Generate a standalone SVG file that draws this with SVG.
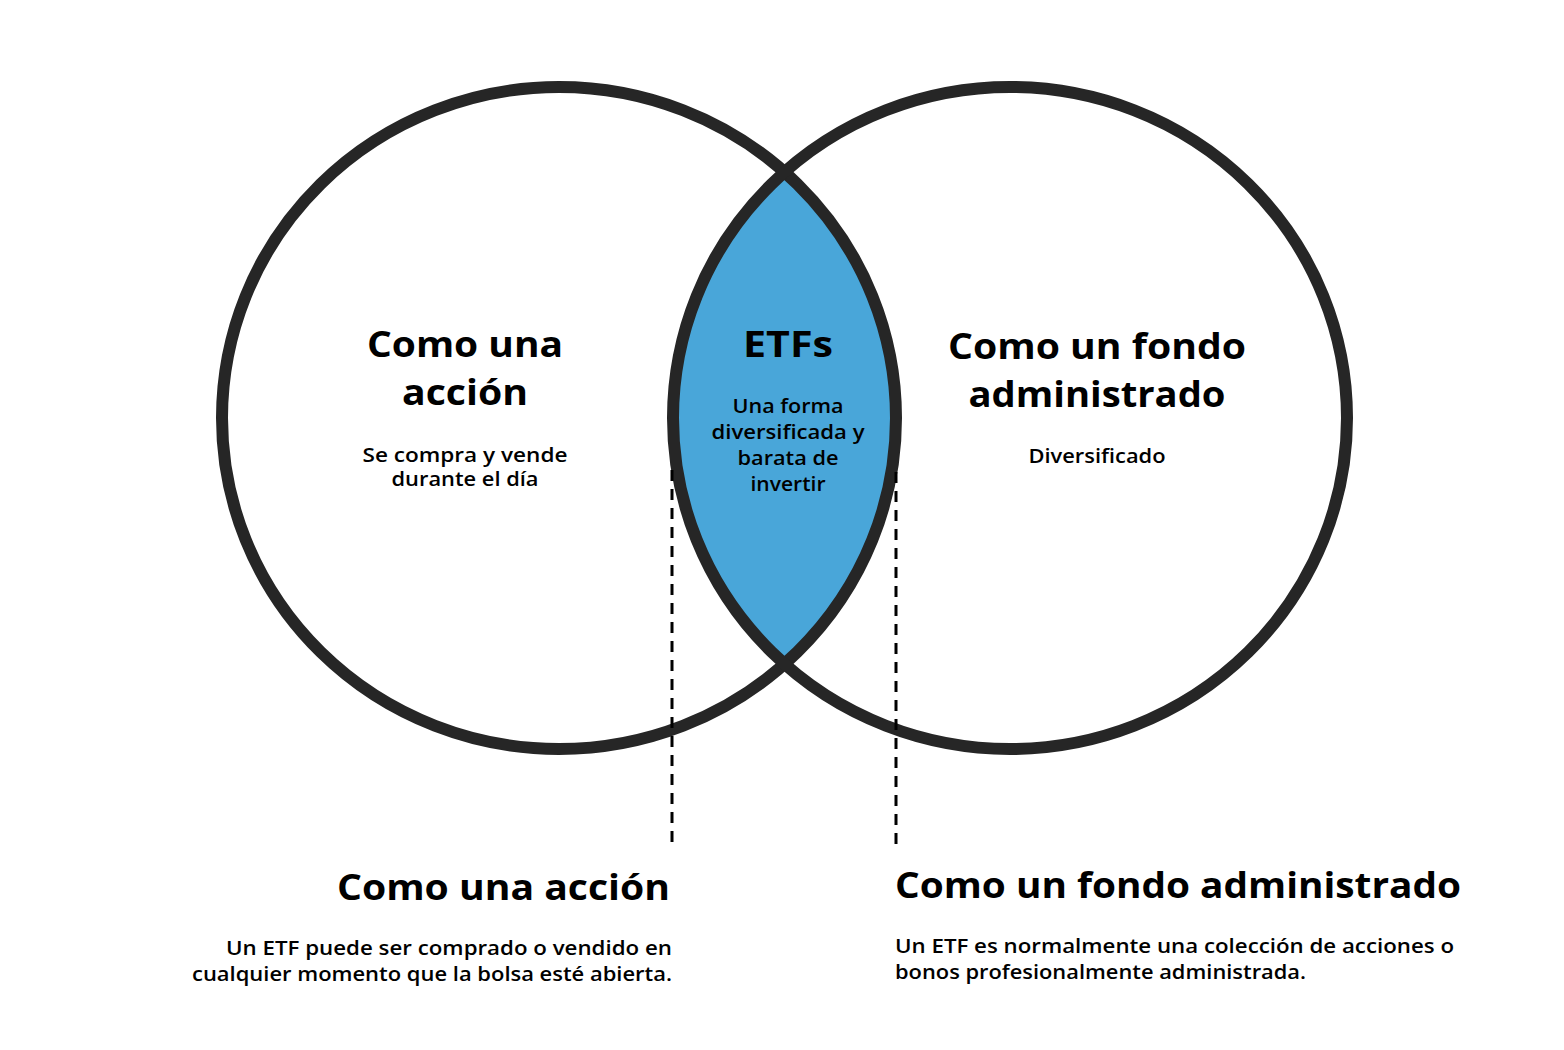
<svg xmlns="http://www.w3.org/2000/svg" width="1564" height="1050" viewBox="0 0 1564 1050">
<style>
text{font-family:"Open Sans","Liberation Sans",sans-serif;fill:#000}
.h{font-size:35px;font-weight:700}
.s{font-size:19px;font-weight:600}
.c{fill:none;stroke:#262626;stroke-width:12}
.d{stroke:#000;stroke-width:3;stroke-dasharray:11 8}
</style>
<rect width="1564" height="1050" fill="#fff"/>
<g id="lens"><path d="M785 172 A337 331 0 0 1 785 664 A337 331 0 0 1 785 172 Z" fill="#49a6d9"/></g>
<g id="left"><ellipse class="c" cx="559" cy="418" rx="337" ry="331"/>
<text class="h" x="465" y="357" text-anchor="middle" textLength="196" lengthAdjust="spacingAndGlyphs">Como una</text>
<text class="h" x="465" y="405" text-anchor="middle" textLength="126" lengthAdjust="spacingAndGlyphs">acción</text>
<text class="s" x="465" y="462" text-anchor="middle" textLength="205" lengthAdjust="spacingAndGlyphs">Se compra y vende</text>
<text class="s" x="465" y="486" text-anchor="middle" textLength="147" lengthAdjust="spacingAndGlyphs">durante el día</text></g>
<g id="right"><ellipse class="c" cx="1010" cy="418" rx="337" ry="331"/>
<text class="h" x="1097" y="359" text-anchor="middle" textLength="298" lengthAdjust="spacingAndGlyphs">Como un fondo</text>
<text class="h" x="1097" y="407" text-anchor="middle" textLength="257" lengthAdjust="spacingAndGlyphs">administrado</text>
<text class="s" x="1097" y="463" text-anchor="middle" textLength="137" lengthAdjust="spacingAndGlyphs">Diversificado</text></g>
<g id="center">
<text class="h" x="788" y="357" text-anchor="middle" textLength="90" lengthAdjust="spacingAndGlyphs">ETFs</text>
<text class="s" x="788" y="413" text-anchor="middle" textLength="111" lengthAdjust="spacingAndGlyphs">Una forma</text>
<text class="s" x="788" y="439" text-anchor="middle" textLength="153" lengthAdjust="spacingAndGlyphs">diversificada y</text>
<text class="s" x="788" y="465" text-anchor="middle" textLength="101" lengthAdjust="spacingAndGlyphs">barata de</text>
<text class="s" x="788" y="491" text-anchor="middle" textLength="75" lengthAdjust="spacingAndGlyphs">invertir</text></g>
<g id="connectors"><line class="d" x1="672" y1="470" x2="672" y2="848"/><line class="d" x1="896" y1="472" x2="896" y2="850"/></g>
<g id="noteLeft">
<text class="h" x="337" y="900" textLength="333" lengthAdjust="spacingAndGlyphs">Como una acción</text>
<text class="s" x="226" y="955" textLength="446" lengthAdjust="spacingAndGlyphs">Un ETF puede ser comprado o vendido en</text>
<text class="s" x="192" y="981" textLength="480" lengthAdjust="spacingAndGlyphs">cualquier momento que la bolsa esté abierta.</text></g>
<g id="noteRight">
<text class="h" x="895" y="898" textLength="566" lengthAdjust="spacingAndGlyphs">Como un fondo administrado</text>
<text class="s" x="895" y="953" textLength="559" lengthAdjust="spacingAndGlyphs">Un ETF es normalmente una colección de acciones o</text>
<text class="s" x="895" y="979" textLength="411" lengthAdjust="spacingAndGlyphs">bonos profesionalmente administrada.</text></g>
</svg>
